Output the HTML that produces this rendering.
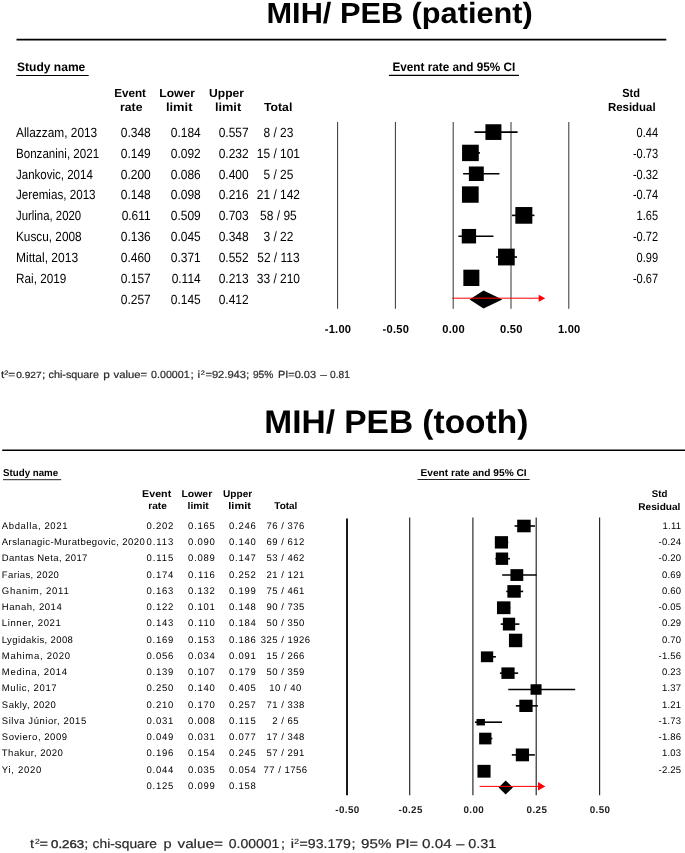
<!DOCTYPE html>
<html><head><meta charset="utf-8"><title>MIH/ PEB forest plots</title>
<style>
html,body{margin:0;padding:0;background:#fff;}
svg{display:block;font-family:"Liberation Sans",Arial,sans-serif;fill:#000;text-rendering:geometricPrecision;}
</style></head><body>
<svg width="685" height="853" viewBox="0 0 685 853">
<rect width="685" height="853" fill="#fff"/>
<text x="266.50" y="22.50" font-size="29.2" font-weight="bold" textLength="266.30" lengthAdjust="spacingAndGlyphs">MIH/ PEB (patient)</text>
<line x1="16.50" y1="39.60" x2="666.30" y2="39.60" stroke="#000" stroke-width="1.6"/>
<text x="17.10" y="71.40" font-size="12.2" font-weight="bold" textLength="68.20" lengthAdjust="spacingAndGlyphs">Study name</text>
<line x1="16.30" y1="75.50" x2="88.70" y2="75.50" stroke="#000" stroke-width="1.1"/>
<text x="392.40" y="71.40" font-size="12.2" font-weight="bold" textLength="122.90" lengthAdjust="spacingAndGlyphs">Event rate and 95% CI</text>
<line x1="388.90" y1="75.40" x2="519.00" y2="75.40" stroke="#000" stroke-width="1.1"/>
<text x="114.20" y="96.50" font-size="11.8" font-weight="bold" textLength="31.80" lengthAdjust="spacingAndGlyphs">Event</text>
<text x="120.00" y="111.00" font-size="11.8" font-weight="bold" textLength="22.50" lengthAdjust="spacingAndGlyphs">rate</text>
<text x="159.30" y="96.50" font-size="11.8" font-weight="bold" textLength="35.60" lengthAdjust="spacingAndGlyphs">Lower</text>
<text x="165.90" y="111.00" font-size="11.8" font-weight="bold" textLength="26.60" lengthAdjust="spacingAndGlyphs">limit</text>
<text x="209.10" y="96.50" font-size="11.8" font-weight="bold" textLength="34.90" lengthAdjust="spacingAndGlyphs">Upper</text>
<text x="214.90" y="111.00" font-size="11.8" font-weight="bold" textLength="26.30" lengthAdjust="spacingAndGlyphs">limit</text>
<text x="264.00" y="111.00" font-size="11.8" font-weight="bold" textLength="28.30" lengthAdjust="spacingAndGlyphs">Total</text>
<text x="622.20" y="96.60" font-size="11.8" font-weight="bold" textLength="17.80" lengthAdjust="spacingAndGlyphs">Std</text>
<text x="607.90" y="111.20" font-size="11.8" font-weight="bold" textLength="47.70" lengthAdjust="spacingAndGlyphs">Residual</text>
<line x1="337.60" y1="122.00" x2="337.60" y2="308.80" stroke="#333" stroke-width="1"/>
<text transform="translate(338.00,333.00) scale(0.96,1)" font-size="11.6" text-anchor="middle" font-weight="bold" letter-spacing="0.25">-1.00</text>
<line x1="395.40" y1="122.00" x2="395.40" y2="308.80" stroke="#333" stroke-width="1"/>
<text transform="translate(395.80,333.00) scale(0.96,1)" font-size="11.6" text-anchor="middle" font-weight="bold" letter-spacing="0.25">-0.50</text>
<line x1="453.20" y1="122.00" x2="453.20" y2="308.80" stroke="#333" stroke-width="1"/>
<text transform="translate(453.60,333.00) scale(0.96,1)" font-size="11.6" text-anchor="middle" font-weight="bold" letter-spacing="0.25">0.00</text>
<line x1="511.00" y1="122.00" x2="511.00" y2="308.80" stroke="#333" stroke-width="1"/>
<text transform="translate(511.40,333.00) scale(0.96,1)" font-size="11.6" text-anchor="middle" font-weight="bold" letter-spacing="0.25">0.50</text>
<line x1="568.80" y1="122.00" x2="568.80" y2="308.80" stroke="#333" stroke-width="1"/>
<text transform="translate(569.20,333.00) scale(0.96,1)" font-size="11.6" text-anchor="middle" font-weight="bold" letter-spacing="0.25">1.00</text>
<text x="16.00" y="137.40" font-size="13.3" font-weight="normal" textLength="81.20" lengthAdjust="spacingAndGlyphs">Allazzam, 2013</text>
<text transform="translate(150.70,137.40) scale(0.9,1)" font-size="13.3" text-anchor="end" font-weight="normal">0.348</text>
<text transform="translate(200.70,137.40) scale(0.9,1)" font-size="13.3" text-anchor="end" font-weight="normal">0.184</text>
<text transform="translate(248.60,137.40) scale(0.9,1)" font-size="13.3" text-anchor="end" font-weight="normal">0.557</text>
<text transform="translate(278.40,137.40) scale(0.9,1)" font-size="13.3" text-anchor="middle" font-weight="normal">8 / 23</text>
<text transform="translate(658.10,137.40) scale(0.83,1)" font-size="13.3" text-anchor="end" font-weight="normal">0.44</text>
<line x1="474.47" y1="132.10" x2="517.59" y2="132.10" stroke="#000" stroke-width="1.6"/>
<rect x="485.43" y="124.25" width="16.00" height="15.70" fill="#000"/>
<text x="16.00" y="158.10" font-size="13.3" font-weight="normal" textLength="83.10" lengthAdjust="spacingAndGlyphs">Bonzanini, 2021</text>
<text transform="translate(150.70,158.10) scale(0.9,1)" font-size="13.3" text-anchor="end" font-weight="normal">0.149</text>
<text transform="translate(200.70,158.10) scale(0.9,1)" font-size="13.3" text-anchor="end" font-weight="normal">0.092</text>
<text transform="translate(248.60,158.10) scale(0.9,1)" font-size="13.3" text-anchor="end" font-weight="normal">0.232</text>
<text transform="translate(278.40,158.10) scale(0.9,1)" font-size="13.3" text-anchor="middle" font-weight="normal">15 / 101</text>
<text transform="translate(658.10,158.10) scale(0.83,1)" font-size="13.3" text-anchor="end" font-weight="normal">-0.73</text>
<line x1="463.84" y1="152.92" x2="480.02" y2="152.92" stroke="#000" stroke-width="1.6"/>
<rect x="462.07" y="144.72" width="16.70" height="16.40" fill="#000"/>
<text x="16.00" y="178.50" font-size="13.3" font-weight="normal" textLength="76.80" lengthAdjust="spacingAndGlyphs">Jankovic, 2014</text>
<text transform="translate(150.70,178.50) scale(0.9,1)" font-size="13.3" text-anchor="end" font-weight="normal">0.200</text>
<text transform="translate(200.70,178.50) scale(0.9,1)" font-size="13.3" text-anchor="end" font-weight="normal">0.086</text>
<text transform="translate(248.60,178.50) scale(0.9,1)" font-size="13.3" text-anchor="end" font-weight="normal">0.400</text>
<text transform="translate(278.40,178.50) scale(0.9,1)" font-size="13.3" text-anchor="middle" font-weight="normal">5 / 25</text>
<text transform="translate(658.10,178.50) scale(0.83,1)" font-size="13.3" text-anchor="end" font-weight="normal">-0.32</text>
<line x1="463.14" y1="173.74" x2="499.44" y2="173.74" stroke="#000" stroke-width="1.6"/>
<rect x="468.87" y="166.49" width="14.90" height="14.50" fill="#000"/>
<text x="16.00" y="199.40" font-size="13.3" font-weight="normal" textLength="79.60" lengthAdjust="spacingAndGlyphs">Jeremias, 2013</text>
<text transform="translate(150.70,199.40) scale(0.9,1)" font-size="13.3" text-anchor="end" font-weight="normal">0.148</text>
<text transform="translate(200.70,199.40) scale(0.9,1)" font-size="13.3" text-anchor="end" font-weight="normal">0.098</text>
<text transform="translate(248.60,199.40) scale(0.9,1)" font-size="13.3" text-anchor="end" font-weight="normal">0.216</text>
<text transform="translate(278.40,199.40) scale(0.9,1)" font-size="13.3" text-anchor="middle" font-weight="normal">21 / 142</text>
<text transform="translate(658.10,199.40) scale(0.83,1)" font-size="13.3" text-anchor="end" font-weight="normal">-0.74</text>
<line x1="464.53" y1="194.56" x2="478.17" y2="194.56" stroke="#000" stroke-width="1.6"/>
<rect x="461.96" y="186.36" width="16.70" height="16.40" fill="#000"/>
<text x="16.00" y="220.40" font-size="13.3" font-weight="normal" textLength="65.10" lengthAdjust="spacingAndGlyphs">Jurlina, 2020</text>
<text transform="translate(150.70,220.40) scale(0.9,1)" font-size="13.3" text-anchor="end" font-weight="normal">0.611</text>
<text transform="translate(200.70,220.40) scale(0.9,1)" font-size="13.3" text-anchor="end" font-weight="normal">0.509</text>
<text transform="translate(248.60,220.40) scale(0.9,1)" font-size="13.3" text-anchor="end" font-weight="normal">0.703</text>
<text transform="translate(278.40,220.40) scale(0.9,1)" font-size="13.3" text-anchor="middle" font-weight="normal">58 / 95</text>
<text transform="translate(658.10,220.40) scale(0.83,1)" font-size="13.3" text-anchor="end" font-weight="normal">1.65</text>
<line x1="512.04" y1="215.38" x2="534.47" y2="215.38" stroke="#000" stroke-width="1.6"/>
<rect x="515.33" y="207.03" width="17.00" height="16.70" fill="#000"/>
<text x="16.00" y="241.00" font-size="13.3" font-weight="normal" textLength="65.60" lengthAdjust="spacingAndGlyphs">Kuscu, 2008</text>
<text transform="translate(150.70,241.00) scale(0.9,1)" font-size="13.3" text-anchor="end" font-weight="normal">0.136</text>
<text transform="translate(200.70,241.00) scale(0.9,1)" font-size="13.3" text-anchor="end" font-weight="normal">0.045</text>
<text transform="translate(248.60,241.00) scale(0.9,1)" font-size="13.3" text-anchor="end" font-weight="normal">0.348</text>
<text transform="translate(278.40,241.00) scale(0.9,1)" font-size="13.3" text-anchor="middle" font-weight="normal">3 / 22</text>
<text transform="translate(658.10,241.00) scale(0.83,1)" font-size="13.3" text-anchor="end" font-weight="normal">-0.72</text>
<line x1="458.40" y1="236.20" x2="493.43" y2="236.20" stroke="#000" stroke-width="1.6"/>
<rect x="461.77" y="228.95" width="14.30" height="14.50" fill="#000"/>
<text x="16.00" y="261.90" font-size="13.3" font-weight="normal" textLength="62.10" lengthAdjust="spacingAndGlyphs">Mittal, 2013</text>
<text transform="translate(150.70,261.90) scale(0.9,1)" font-size="13.3" text-anchor="end" font-weight="normal">0.460</text>
<text transform="translate(200.70,261.90) scale(0.9,1)" font-size="13.3" text-anchor="end" font-weight="normal">0.371</text>
<text transform="translate(248.60,261.90) scale(0.9,1)" font-size="13.3" text-anchor="end" font-weight="normal">0.552</text>
<text transform="translate(278.40,261.90) scale(0.9,1)" font-size="13.3" text-anchor="middle" font-weight="normal">52 / 113</text>
<text transform="translate(658.10,261.90) scale(0.83,1)" font-size="13.3" text-anchor="end" font-weight="normal">0.99</text>
<line x1="496.09" y1="257.02" x2="517.01" y2="257.02" stroke="#000" stroke-width="1.6"/>
<rect x="498.03" y="248.62" width="16.70" height="16.80" fill="#000"/>
<text x="16.00" y="282.90" font-size="13.3" font-weight="normal" textLength="50.30" lengthAdjust="spacingAndGlyphs">Rai, 2019</text>
<text transform="translate(150.70,282.90) scale(0.9,1)" font-size="13.3" text-anchor="end" font-weight="normal">0.157</text>
<text transform="translate(200.70,282.90) scale(0.9,1)" font-size="13.3" text-anchor="end" font-weight="normal">0.114</text>
<text transform="translate(248.60,282.90) scale(0.9,1)" font-size="13.3" text-anchor="end" font-weight="normal">0.213</text>
<text transform="translate(278.40,282.90) scale(0.9,1)" font-size="13.3" text-anchor="middle" font-weight="normal">33 / 210</text>
<text transform="translate(658.10,282.90) scale(0.83,1)" font-size="13.3" text-anchor="end" font-weight="normal">-0.67</text>
<line x1="466.38" y1="277.84" x2="477.82" y2="277.84" stroke="#000" stroke-width="1.6"/>
<rect x="463.35" y="269.69" width="16.00" height="16.30" fill="#000"/>
<text transform="translate(150.70,303.50) scale(0.9,1)" font-size="13.3" text-anchor="end" font-weight="normal">0.257</text>
<text transform="translate(200.70,303.50) scale(0.9,1)" font-size="13.3" text-anchor="end" font-weight="normal">0.145</text>
<text transform="translate(248.60,303.50) scale(0.9,1)" font-size="13.3" text-anchor="end" font-weight="normal">0.412</text>
<polygon points="469.6,299.4 483.5,290.4 502.3,299.4 483.5,308.4" fill="#000"/>
<line x1="452.30" y1="298.20" x2="540.00" y2="298.20" stroke="#f00" stroke-width="1"/>
<polygon points="545.3,298.2 538.7,294.8 538.7,301.7" fill="#f00"/>
<text fill="#2a2a2a" stroke="#2a2a2a" stroke-width="0.2" xml:space="preserve"><tspan x="1.00" y="378.00" font-size="10.4" textLength="3.30" lengthAdjust="spacingAndGlyphs">t</tspan><tspan x="4.31" y="374.50" font-size="6.6" textLength="4.18" lengthAdjust="spacingAndGlyphs">2</tspan><tspan x="8.29" y="378.00" font-size="10.4" textLength="6.92" lengthAdjust="spacingAndGlyphs">=</tspan><tspan x="16.20" y="378.00" font-size="8.9" textLength="25.40" lengthAdjust="spacingAndGlyphs">0.927</tspan><tspan x="42.00" y="378.00" font-size="10.4" textLength="3.30" lengthAdjust="spacingAndGlyphs">;</tspan><tspan x="48.60" y="378.00" font-size="10.4" textLength="50.30" lengthAdjust="spacingAndGlyphs">chi-square</tspan><tspan x="103.30" y="378.00" font-size="10.4" textLength="6.59" lengthAdjust="spacingAndGlyphs">p</tspan><tspan x="113.50" y="378.00" font-size="10.4" textLength="33.70" lengthAdjust="spacingAndGlyphs">value=</tspan><tspan x="151.10" y="378.00" font-size="10.4" textLength="38.50" lengthAdjust="spacingAndGlyphs">0.00001</tspan><tspan x="190.50" y="378.00" font-size="10.4" textLength="3.30" lengthAdjust="spacingAndGlyphs">;</tspan><tspan x="197.58" y="378.00" font-size="10.4" textLength="2.63" lengthAdjust="spacingAndGlyphs">i</tspan><tspan x="200.76" y="374.50" font-size="6.6" textLength="4.18" lengthAdjust="spacingAndGlyphs">2</tspan><tspan x="205.40" y="378.00" font-size="10.4" textLength="40.60" lengthAdjust="spacingAndGlyphs">=92.943</tspan><tspan x="246.00" y="378.00" font-size="10.4" textLength="3.30" lengthAdjust="spacingAndGlyphs">;</tspan><tspan x="252.90" y="378.00" font-size="10.4" textLength="20.40" lengthAdjust="spacingAndGlyphs">95%</tspan><tspan x="277.90" y="378.00" font-size="10.4" textLength="38.20" lengthAdjust="spacingAndGlyphs">PI=0.03</tspan><tspan x="320.20" y="378.00" font-size="10.4" textLength="6.59" lengthAdjust="spacingAndGlyphs">–</tspan><tspan x="330.00" y="378.00" font-size="10.4" textLength="19.90" lengthAdjust="spacingAndGlyphs">0.81</tspan></text>
<g transform="translate(0,433.3) scale(1,1.12)">
<text x="264.30" y="0.00" font-size="29.3" font-weight="bold" textLength="264.00" lengthAdjust="spacingAndGlyphs">MIH/ PEB (tooth)</text>
</g>
<line x1="2.20" y1="450.30" x2="685.00" y2="450.30" stroke="#000" stroke-width="1.6"/>
<text x="3.00" y="475.80" font-size="9.9" font-weight="bold" textLength="55.20" lengthAdjust="spacingAndGlyphs">Study name</text>
<line x1="3.00" y1="479.70" x2="61.20" y2="479.70" stroke="#222" stroke-width="1.0"/>
<text x="420.50" y="475.80" font-size="9.9" font-weight="bold" textLength="106.20" lengthAdjust="spacingAndGlyphs">Event rate and 95% CI</text>
<line x1="417.50" y1="479.50" x2="529.70" y2="479.50" stroke="#222" stroke-width="1.0"/>
<text x="142.10" y="496.60" font-size="9.8" font-weight="bold" textLength="29.10" lengthAdjust="spacingAndGlyphs">Event</text>
<text x="148.20" y="509.40" font-size="9.8" font-weight="bold" textLength="18.60" lengthAdjust="spacingAndGlyphs">rate</text>
<text x="181.50" y="496.60" font-size="9.8" font-weight="bold" textLength="30.70" lengthAdjust="spacingAndGlyphs">Lower</text>
<text x="187.50" y="509.40" font-size="9.8" font-weight="bold" textLength="21.30" lengthAdjust="spacingAndGlyphs">limit</text>
<text x="223.10" y="496.60" font-size="9.8" font-weight="bold" textLength="29.10" lengthAdjust="spacingAndGlyphs">Upper</text>
<text x="228.30" y="509.40" font-size="9.8" font-weight="bold" textLength="22.60" lengthAdjust="spacingAndGlyphs">limit</text>
<text x="274.30" y="509.40" font-size="9.8" font-weight="bold" textLength="23.10" lengthAdjust="spacingAndGlyphs">Total</text>
<text x="651.80" y="497.00" font-size="9.8" font-weight="bold" textLength="15.50" lengthAdjust="spacingAndGlyphs">Std</text>
<text x="638.30" y="509.90" font-size="9.8" font-weight="bold" textLength="42.10" lengthAdjust="spacingAndGlyphs">Residual</text>
<line x1="347.00" y1="518.40" x2="347.00" y2="795.20" stroke="#000" stroke-width="1.8"/>
<text transform="translate(347.50,812.80) scale(1.0,1)" font-size="9.8" text-anchor="middle" font-weight="bold" letter-spacing="0.4" fill="#222">-0.50</text>
<line x1="409.70" y1="517.60" x2="409.70" y2="795.20" stroke="#222" stroke-width="1.15"/>
<text transform="translate(410.65,812.80) scale(1.0,1)" font-size="9.8" text-anchor="middle" font-weight="bold" letter-spacing="0.4" fill="#222">-0.25</text>
<line x1="472.90" y1="517.60" x2="472.90" y2="795.20" stroke="#222" stroke-width="1.15"/>
<text transform="translate(473.80,812.80) scale(1.0,1)" font-size="9.8" text-anchor="middle" font-weight="bold" letter-spacing="0.4" fill="#222">0.00</text>
<line x1="536.20" y1="517.60" x2="536.20" y2="795.20" stroke="#222" stroke-width="1.15"/>
<text transform="translate(536.95,812.80) scale(1.0,1)" font-size="9.8" text-anchor="middle" font-weight="bold" letter-spacing="0.4" fill="#222">0.25</text>
<line x1="599.60" y1="517.60" x2="599.60" y2="795.20" stroke="#222" stroke-width="1.15"/>
<text transform="translate(600.10,812.80) scale(1.0,1)" font-size="9.8" text-anchor="middle" font-weight="bold" letter-spacing="0.4" fill="#222">0.50</text>
<text x="1.80" y="528.80" font-size="9.5" font-weight="normal" textLength="65.70" lengthAdjust="spacing">Abdalla, 2021</text>
<text x="146.50" y="528.80" font-size="9.5" font-weight="normal" textLength="26.80" lengthAdjust="spacing">0.202</text>
<text x="188.10" y="528.80" font-size="9.5" font-weight="normal" textLength="26.80" lengthAdjust="spacing">0.165</text>
<text x="229.10" y="528.80" font-size="9.5" font-weight="normal" textLength="26.70" lengthAdjust="spacing">0.246</text>
<text transform="translate(285.60,528.80) scale(1.0,1)" font-size="9.5" text-anchor="middle" font-weight="normal" letter-spacing="0.5">76 / 376</text>
<text transform="translate(681.20,528.80) scale(1.0,1)" font-size="9.5" text-anchor="end" font-weight="normal" letter-spacing="0.2">1.11</text>
<line x1="514.58" y1="526.00" x2="535.04" y2="526.00" stroke="#000" stroke-width="1.6"/>
<rect x="517.18" y="519.70" width="13.50" height="12.60" fill="#000"/>
<text x="1.80" y="545.06" font-size="9.5" font-weight="normal" textLength="142.90" lengthAdjust="spacing">Arslanagic-Muratbegovic, 2020</text>
<text x="146.50" y="545.06" font-size="9.5" font-weight="normal" textLength="26.80" lengthAdjust="spacing">0.113</text>
<text x="188.10" y="545.06" font-size="9.5" font-weight="normal" textLength="26.80" lengthAdjust="spacing">0.090</text>
<text x="229.10" y="545.06" font-size="9.5" font-weight="normal" textLength="26.70" lengthAdjust="spacing">0.140</text>
<text transform="translate(285.60,545.06) scale(1.0,1)" font-size="9.5" text-anchor="middle" font-weight="normal" letter-spacing="0.5">69 / 612</text>
<text transform="translate(681.20,545.06) scale(1.0,1)" font-size="9.5" text-anchor="end" font-weight="normal" letter-spacing="0.2">-0.24</text>
<line x1="495.63" y1="542.35" x2="508.26" y2="542.35" stroke="#000" stroke-width="1.6"/>
<rect x="494.84" y="536.15" width="13.20" height="12.40" fill="#000"/>
<text x="1.80" y="561.32" font-size="9.5" font-weight="normal" textLength="85.60" lengthAdjust="spacing">Dantas Neta, 2017</text>
<text x="146.50" y="561.32" font-size="9.5" font-weight="normal" textLength="26.80" lengthAdjust="spacing">0.115</text>
<text x="188.10" y="561.32" font-size="9.5" font-weight="normal" textLength="26.80" lengthAdjust="spacing">0.089</text>
<text x="229.10" y="561.32" font-size="9.5" font-weight="normal" textLength="26.70" lengthAdjust="spacing">0.147</text>
<text transform="translate(285.60,561.32) scale(1.0,1)" font-size="9.5" text-anchor="middle" font-weight="normal" letter-spacing="0.5">53 / 462</text>
<text transform="translate(681.20,561.32) scale(1.0,1)" font-size="9.5" text-anchor="end" font-weight="normal" letter-spacing="0.2">-0.20</text>
<line x1="495.38" y1="558.70" x2="510.03" y2="558.70" stroke="#000" stroke-width="1.6"/>
<rect x="495.75" y="552.50" width="12.40" height="12.40" fill="#000"/>
<text x="1.80" y="577.58" font-size="9.5" font-weight="normal" textLength="57.10" lengthAdjust="spacing">Farias, 2020</text>
<text x="146.50" y="577.58" font-size="9.5" font-weight="normal" textLength="26.80" lengthAdjust="spacing">0.174</text>
<text x="188.10" y="577.58" font-size="9.5" font-weight="normal" textLength="26.80" lengthAdjust="spacing">0.116</text>
<text x="229.10" y="577.58" font-size="9.5" font-weight="normal" textLength="26.70" lengthAdjust="spacing">0.252</text>
<text transform="translate(285.60,577.58) scale(1.0,1)" font-size="9.5" text-anchor="middle" font-weight="normal" letter-spacing="0.5">21 / 121</text>
<text transform="translate(681.20,577.58) scale(1.0,1)" font-size="9.5" text-anchor="end" font-weight="normal" letter-spacing="0.2">0.69</text>
<line x1="502.20" y1="575.05" x2="536.56" y2="575.05" stroke="#000" stroke-width="1.6"/>
<rect x="510.45" y="569.15" width="12.80" height="11.80" fill="#000"/>
<text x="1.80" y="593.84" font-size="9.5" font-weight="normal" textLength="66.90" lengthAdjust="spacing">Ghanim, 2011</text>
<text x="146.50" y="593.84" font-size="9.5" font-weight="normal" textLength="26.80" lengthAdjust="spacing">0.163</text>
<text x="188.10" y="593.84" font-size="9.5" font-weight="normal" textLength="26.80" lengthAdjust="spacing">0.132</text>
<text x="229.10" y="593.84" font-size="9.5" font-weight="normal" textLength="26.70" lengthAdjust="spacing">0.199</text>
<text transform="translate(285.60,593.84) scale(1.0,1)" font-size="9.5" text-anchor="middle" font-weight="normal" letter-spacing="0.5">75 / 461</text>
<text transform="translate(681.20,593.84) scale(1.0,1)" font-size="9.5" text-anchor="end" font-weight="normal" letter-spacing="0.2">0.60</text>
<line x1="506.24" y1="591.40" x2="523.17" y2="591.40" stroke="#000" stroke-width="1.6"/>
<rect x="507.37" y="585.10" width="13.40" height="12.60" fill="#000"/>
<text x="1.80" y="610.10" font-size="9.5" font-weight="normal" textLength="59.90" lengthAdjust="spacing">Hanah, 2014</text>
<text x="146.50" y="610.10" font-size="9.5" font-weight="normal" textLength="26.80" lengthAdjust="spacing">0.122</text>
<text x="188.10" y="610.10" font-size="9.5" font-weight="normal" textLength="26.80" lengthAdjust="spacing">0.101</text>
<text x="229.10" y="610.10" font-size="9.5" font-weight="normal" textLength="26.70" lengthAdjust="spacing">0.148</text>
<text transform="translate(285.60,610.10) scale(1.0,1)" font-size="9.5" text-anchor="middle" font-weight="normal" letter-spacing="0.5">90 / 735</text>
<text transform="translate(681.20,610.10) scale(1.0,1)" font-size="9.5" text-anchor="end" font-weight="normal" letter-spacing="0.2">-0.05</text>
<line x1="498.41" y1="607.75" x2="510.28" y2="607.75" stroke="#000" stroke-width="1.6"/>
<rect x="496.97" y="601.35" width="13.50" height="12.80" fill="#000"/>
<text x="1.80" y="626.36" font-size="9.5" font-weight="normal" textLength="59.00" lengthAdjust="spacing">Linner, 2021</text>
<text x="146.50" y="626.36" font-size="9.5" font-weight="normal" textLength="26.80" lengthAdjust="spacing">0.143</text>
<text x="188.10" y="626.36" font-size="9.5" font-weight="normal" textLength="26.80" lengthAdjust="spacing">0.110</text>
<text x="229.10" y="626.36" font-size="9.5" font-weight="normal" textLength="26.70" lengthAdjust="spacing">0.184</text>
<text transform="translate(285.60,626.36) scale(1.0,1)" font-size="9.5" text-anchor="middle" font-weight="normal" letter-spacing="0.5">50 / 350</text>
<text transform="translate(681.20,626.36) scale(1.0,1)" font-size="9.5" text-anchor="end" font-weight="normal" letter-spacing="0.2">0.29</text>
<line x1="500.69" y1="624.10" x2="519.38" y2="624.10" stroke="#000" stroke-width="1.6"/>
<rect x="502.87" y="617.70" width="12.30" height="12.80" fill="#000"/>
<text x="1.80" y="642.62" font-size="9.5" font-weight="normal" textLength="71.10" lengthAdjust="spacing">Lygidakis, 2008</text>
<text x="146.50" y="642.62" font-size="9.5" font-weight="normal" textLength="26.80" lengthAdjust="spacing">0.169</text>
<text x="188.10" y="642.62" font-size="9.5" font-weight="normal" textLength="26.80" lengthAdjust="spacing">0.153</text>
<text x="229.10" y="642.62" font-size="9.5" font-weight="normal" textLength="26.70" lengthAdjust="spacing">0.186</text>
<text transform="translate(285.60,642.62) scale(1.0,1)" font-size="9.5" text-anchor="middle" font-weight="normal" letter-spacing="0.5">325 / 1926</text>
<text transform="translate(681.20,642.62) scale(1.0,1)" font-size="9.5" text-anchor="end" font-weight="normal" letter-spacing="0.2">0.70</text>
<line x1="511.55" y1="640.45" x2="519.88" y2="640.45" stroke="#000" stroke-width="1.6"/>
<rect x="508.94" y="633.70" width="13.30" height="13.50" fill="#000"/>
<text x="1.80" y="658.88" font-size="9.5" font-weight="normal" textLength="68.30" lengthAdjust="spacing">Mahima, 2020</text>
<text x="146.50" y="658.88" font-size="9.5" font-weight="normal" textLength="26.80" lengthAdjust="spacing">0.056</text>
<text x="188.10" y="658.88" font-size="9.5" font-weight="normal" textLength="26.80" lengthAdjust="spacing">0.034</text>
<text x="229.10" y="658.88" font-size="9.5" font-weight="normal" textLength="26.70" lengthAdjust="spacing">0.091</text>
<text transform="translate(285.60,658.88) scale(1.0,1)" font-size="9.5" text-anchor="middle" font-weight="normal" letter-spacing="0.5">15 / 266</text>
<text transform="translate(681.20,658.88) scale(1.0,1)" font-size="9.5" text-anchor="end" font-weight="normal" letter-spacing="0.2">-1.56</text>
<line x1="481.49" y1="656.80" x2="495.89" y2="656.80" stroke="#000" stroke-width="1.6"/>
<rect x="480.90" y="651.40" width="12.30" height="10.80" fill="#000"/>
<text x="1.80" y="675.14" font-size="9.5" font-weight="normal" textLength="65.30" lengthAdjust="spacing">Medina, 2014</text>
<text x="146.50" y="675.14" font-size="9.5" font-weight="normal" textLength="26.80" lengthAdjust="spacing">0.139</text>
<text x="188.10" y="675.14" font-size="9.5" font-weight="normal" textLength="26.80" lengthAdjust="spacing">0.107</text>
<text x="229.10" y="675.14" font-size="9.5" font-weight="normal" textLength="26.70" lengthAdjust="spacing">0.179</text>
<text transform="translate(285.60,675.14) scale(1.0,1)" font-size="9.5" text-anchor="middle" font-weight="normal" letter-spacing="0.5">50 / 359</text>
<text transform="translate(681.20,675.14) scale(1.0,1)" font-size="9.5" text-anchor="end" font-weight="normal" letter-spacing="0.2">0.23</text>
<line x1="499.93" y1="673.15" x2="518.12" y2="673.15" stroke="#000" stroke-width="1.6"/>
<rect x="501.41" y="667.40" width="13.20" height="11.50" fill="#000"/>
<text x="1.80" y="691.40" font-size="9.5" font-weight="normal" textLength="54.80" lengthAdjust="spacing">Mulic, 2017</text>
<text x="146.50" y="691.40" font-size="9.5" font-weight="normal" textLength="26.80" lengthAdjust="spacing">0.250</text>
<text x="188.10" y="691.40" font-size="9.5" font-weight="normal" textLength="26.80" lengthAdjust="spacing">0.140</text>
<text x="229.10" y="691.40" font-size="9.5" font-weight="normal" textLength="26.70" lengthAdjust="spacing">0.405</text>
<text transform="translate(285.60,691.40) scale(1.0,1)" font-size="9.5" text-anchor="middle" font-weight="normal" letter-spacing="0.5">10 / 40</text>
<text transform="translate(681.20,691.40) scale(1.0,1)" font-size="9.5" text-anchor="end" font-weight="normal" letter-spacing="0.2">1.37</text>
<line x1="508.26" y1="689.50" x2="575.20" y2="689.50" stroke="#000" stroke-width="1.6"/>
<rect x="530.55" y="684.25" width="11.00" height="10.50" fill="#000"/>
<text x="1.80" y="707.66" font-size="9.5" font-weight="normal" textLength="54.10" lengthAdjust="spacing">Sakly, 2020</text>
<text x="146.50" y="707.66" font-size="9.5" font-weight="normal" textLength="26.80" lengthAdjust="spacing">0.210</text>
<text x="188.10" y="707.66" font-size="9.5" font-weight="normal" textLength="26.80" lengthAdjust="spacing">0.170</text>
<text x="229.10" y="707.66" font-size="9.5" font-weight="normal" textLength="26.70" lengthAdjust="spacing">0.257</text>
<text transform="translate(285.60,707.66) scale(1.0,1)" font-size="9.5" text-anchor="middle" font-weight="normal" letter-spacing="0.5">71 / 338</text>
<text transform="translate(681.20,707.66) scale(1.0,1)" font-size="9.5" text-anchor="end" font-weight="normal" letter-spacing="0.2">1.21</text>
<line x1="515.84" y1="705.85" x2="537.82" y2="705.85" stroke="#000" stroke-width="1.6"/>
<rect x="519.30" y="699.70" width="13.30" height="12.30" fill="#000"/>
<text x="1.80" y="723.92" font-size="9.5" font-weight="normal" textLength="84.40" lengthAdjust="spacing">Silva Júnior, 2015</text>
<text x="146.50" y="723.92" font-size="9.5" font-weight="normal" textLength="26.80" lengthAdjust="spacing">0.031</text>
<text x="188.10" y="723.92" font-size="9.5" font-weight="normal" textLength="26.80" lengthAdjust="spacing">0.008</text>
<text x="229.10" y="723.92" font-size="9.5" font-weight="normal" textLength="26.70" lengthAdjust="spacing">0.115</text>
<text transform="translate(285.60,723.92) scale(1.0,1)" font-size="9.5" text-anchor="middle" font-weight="normal" letter-spacing="0.5">2 / 65</text>
<text transform="translate(681.20,723.92) scale(1.0,1)" font-size="9.5" text-anchor="end" font-weight="normal" letter-spacing="0.2">-1.73</text>
<line x1="474.92" y1="722.20" x2="501.95" y2="722.20" stroke="#000" stroke-width="1.6"/>
<rect x="476.53" y="718.95" width="8.40" height="6.50" fill="#000"/>
<text x="1.80" y="740.18" font-size="9.5" font-weight="normal" textLength="65.30" lengthAdjust="spacing">Soviero, 2009</text>
<text x="146.50" y="740.18" font-size="9.5" font-weight="normal" textLength="26.80" lengthAdjust="spacing">0.049</text>
<text x="188.10" y="740.18" font-size="9.5" font-weight="normal" textLength="26.80" lengthAdjust="spacing">0.031</text>
<text x="229.10" y="740.18" font-size="9.5" font-weight="normal" textLength="26.70" lengthAdjust="spacing">0.077</text>
<text transform="translate(285.60,740.18) scale(1.0,1)" font-size="9.5" text-anchor="middle" font-weight="normal" letter-spacing="0.5">17 / 348</text>
<text transform="translate(681.20,740.18) scale(1.0,1)" font-size="9.5" text-anchor="end" font-weight="normal" letter-spacing="0.2">-1.86</text>
<line x1="480.73" y1="738.55" x2="492.35" y2="738.55" stroke="#000" stroke-width="1.6"/>
<rect x="479.13" y="732.70" width="12.30" height="11.70" fill="#000"/>
<text x="1.80" y="756.44" font-size="9.5" font-weight="normal" textLength="61.10" lengthAdjust="spacing">Thakur, 2020</text>
<text x="146.50" y="756.44" font-size="9.5" font-weight="normal" textLength="26.80" lengthAdjust="spacing">0.196</text>
<text x="188.10" y="756.44" font-size="9.5" font-weight="normal" textLength="26.80" lengthAdjust="spacing">0.154</text>
<text x="229.10" y="756.44" font-size="9.5" font-weight="normal" textLength="26.70" lengthAdjust="spacing">0.245</text>
<text transform="translate(285.60,756.44) scale(1.0,1)" font-size="9.5" text-anchor="middle" font-weight="normal" letter-spacing="0.5">57 / 291</text>
<text transform="translate(681.20,756.44) scale(1.0,1)" font-size="9.5" text-anchor="end" font-weight="normal" letter-spacing="0.2">1.03</text>
<line x1="511.80" y1="754.90" x2="534.79" y2="754.90" stroke="#000" stroke-width="1.6"/>
<rect x="515.81" y="748.50" width="13.20" height="12.80" fill="#000"/>
<text x="1.80" y="772.70" font-size="9.5" font-weight="normal" textLength="39.60" lengthAdjust="spacing">Yi, 2020</text>
<text x="146.50" y="772.70" font-size="9.5" font-weight="normal" textLength="26.80" lengthAdjust="spacing">0.044</text>
<text x="188.10" y="772.70" font-size="9.5" font-weight="normal" textLength="26.80" lengthAdjust="spacing">0.035</text>
<text x="229.10" y="772.70" font-size="9.5" font-weight="normal" textLength="26.70" lengthAdjust="spacing">0.054</text>
<text transform="translate(285.60,772.70) scale(1.0,1)" font-size="9.5" text-anchor="middle" font-weight="normal" letter-spacing="0.5">77 / 1756</text>
<text transform="translate(681.20,772.70) scale(1.0,1)" font-size="9.5" text-anchor="end" font-weight="normal" letter-spacing="0.2">-2.25</text>
<line x1="481.74" y1="771.25" x2="486.54" y2="771.25" stroke="#000" stroke-width="1.6"/>
<rect x="477.46" y="764.85" width="13.10" height="12.80" fill="#000"/>
<text x="146.50" y="788.56" font-size="9.5" font-weight="normal" textLength="26.80" lengthAdjust="spacing">0.125</text>
<text x="188.10" y="788.56" font-size="9.5" font-weight="normal" textLength="26.80" lengthAdjust="spacing">0.099</text>
<text x="229.10" y="788.56" font-size="9.5" font-weight="normal" textLength="26.70" lengthAdjust="spacing">0.158</text>
<polygon points="498.6,787.5 505.7,780.5 512.9,787.5 505.7,794.5" fill="#000"/>
<line x1="479.60" y1="786.40" x2="539.50" y2="786.40" stroke="#f00" stroke-width="1"/>
<polygon points="545.3,786.4 538,782 538,790.6" fill="#f00"/>
<text fill="#2a2a2a" stroke="#2a2a2a" stroke-width="0.2" xml:space="preserve"><tspan x="30.12" y="848.30" font-size="12.8" textLength="4.06" lengthAdjust="spacingAndGlyphs">t</tspan><tspan x="35.02" y="844.30" font-size="7.5" textLength="4.75" lengthAdjust="spacingAndGlyphs">2</tspan><tspan x="39.44" y="848.30" font-size="12.8" textLength="8.52" lengthAdjust="spacingAndGlyphs">=</tspan><tspan x="51.10" y="848.30" font-size="11.3" textLength="33.10" lengthAdjust="spacingAndGlyphs" stroke-width="0.4">0.263</tspan><tspan x="84.37" y="848.30" font-size="12.8" textLength="4.06" lengthAdjust="spacingAndGlyphs">;</tspan><tspan x="92.60" y="848.30" font-size="12.8" textLength="64.40" lengthAdjust="spacingAndGlyphs">chi-square</tspan><tspan x="163.49" y="848.30" font-size="12.8" textLength="8.11" lengthAdjust="spacingAndGlyphs">p</tspan><tspan x="177.50" y="848.30" font-size="12.8" textLength="45.40" lengthAdjust="spacingAndGlyphs">value=</tspan><tspan x="228.70" y="848.30" font-size="12.8" textLength="50.70" lengthAdjust="spacingAndGlyphs">0.00001</tspan><tspan x="280.97" y="848.30" font-size="12.8" textLength="4.06" lengthAdjust="spacingAndGlyphs">;</tspan><tspan x="290.83" y="848.30" font-size="12.8" textLength="3.24" lengthAdjust="spacingAndGlyphs">i</tspan><tspan x="294.17" y="844.30" font-size="7.5" textLength="4.75" lengthAdjust="spacingAndGlyphs">2</tspan><tspan x="299.60" y="848.30" font-size="12.8" textLength="51.30" lengthAdjust="spacingAndGlyphs">=93.179</tspan><tspan x="351.62" y="848.30" font-size="12.8" textLength="4.06" lengthAdjust="spacingAndGlyphs">;</tspan><tspan x="361.10" y="848.30" font-size="12.8" textLength="30.30" lengthAdjust="spacingAndGlyphs">95%</tspan><tspan x="395.80" y="848.30" font-size="12.8" textLength="22.10" lengthAdjust="spacingAndGlyphs">PI=</tspan><tspan x="422.10" y="848.30" font-size="12.8" textLength="29.70" lengthAdjust="spacingAndGlyphs">0.04</tspan><tspan x="456.39" y="848.30" font-size="12.8" textLength="8.11" lengthAdjust="spacingAndGlyphs">–</tspan><tspan x="468.30" y="848.30" font-size="12.8" textLength="28.10" lengthAdjust="spacingAndGlyphs">0.31</tspan></text>
</svg>
</body></html>
